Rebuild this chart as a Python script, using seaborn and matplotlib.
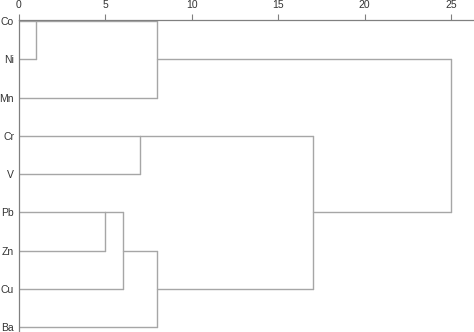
import matplotlib
matplotlib.use("Agg")
import matplotlib.pyplot as plt
import numpy as np
import pandas as pd
import seaborn as sns

# Leaf order (top to bottom) and agglomeration steps (rescaled distance 0-25)
leaves = ["Co", "Ni", "Mn", "Cr", "V", "Pb", "Zn", "Cu", "Ba"]
merge_left = ["Co", "Co", "Cr", "Pb", "Pb", "Pb", "Cr", "Co"]
merge_right = ["Ni", "Mn", "V", "Zn", "Cu", "Ba", "Pb", "Cr"]
merge_height = [1.0, 8.0, 7.0, 5.0, 6.0, 8.0, 17.0, 25.0]
x_ticks = [0, 5, 10, 15, 20, 25]

# Build the dendrogram segments: each cluster keeps a row position and the
# distance at which it was last joined; the joined cluster sits at the
# (floored) midpoint row of its two children.
pos = {name: i for i, name in enumerate(leaves)}
level = {name: 0.0 for name in leaves}
rows = []
seg = 0
for a, b, h in zip(merge_left, merge_right, merge_height):
    ya, yb = pos[a], pos[b]
    for y, x0 in ((ya, level[a]), (yb, level[b])):
        rows += [(seg, x0, y), (seg, h, y)]
        seg += 1
    rows += [(seg, h, ya), (seg, h, yb)]
    seg += 1
    pos[a] = (ya + yb) // 2
    level[a] = h
segments = pd.DataFrame(rows, columns=["seg", "dist", "row"])

sns.set_style("white")
plt.rcParams["font.family"] = ["Liberation Sans", "DejaVu Sans"]

fig = plt.figure(figsize=(4.74, 3.32), dpi=100)
ax = fig.add_axes([19 / 474, 0.0, 1 - 19 / 474, 1 - 20 / 332])

sns.lineplot(data=segments, x="dist", y="row", units="seg", estimator=None,
             sort=False, color="#a6a6a6", linewidth=1.0, ax=ax, legend=False)

ax.set_xlim(0, (474 - 19) / 17.28)
ax.set_ylim(8.13, -0.03)

ax.xaxis.tick_top()
ax.set_xticks(x_ticks)
ax.set_xticklabels([str(t) for t in x_ticks])
ax.tick_params(axis="x", direction="out", length=4.5, width=0.8, color="#808080",
               pad=2.5, labelsize=7.5, labelcolor="#333333")
ax.set_yticks(range(len(leaves)))
ax.set_yticklabels(leaves)
ax.tick_params(axis="y", length=0, pad=3.6, labelsize=7.5, labelcolor="#333333")
ax.set_xlabel("")
ax.set_ylabel("")

for side in ("right", "bottom"):
    ax.spines[side].set_visible(False)
for side in ("top", "left"):
    ax.spines[side].set_color("#808080")
    ax.spines[side].set_linewidth(0.9)

fig.savefig("out.png", dpi=100)
